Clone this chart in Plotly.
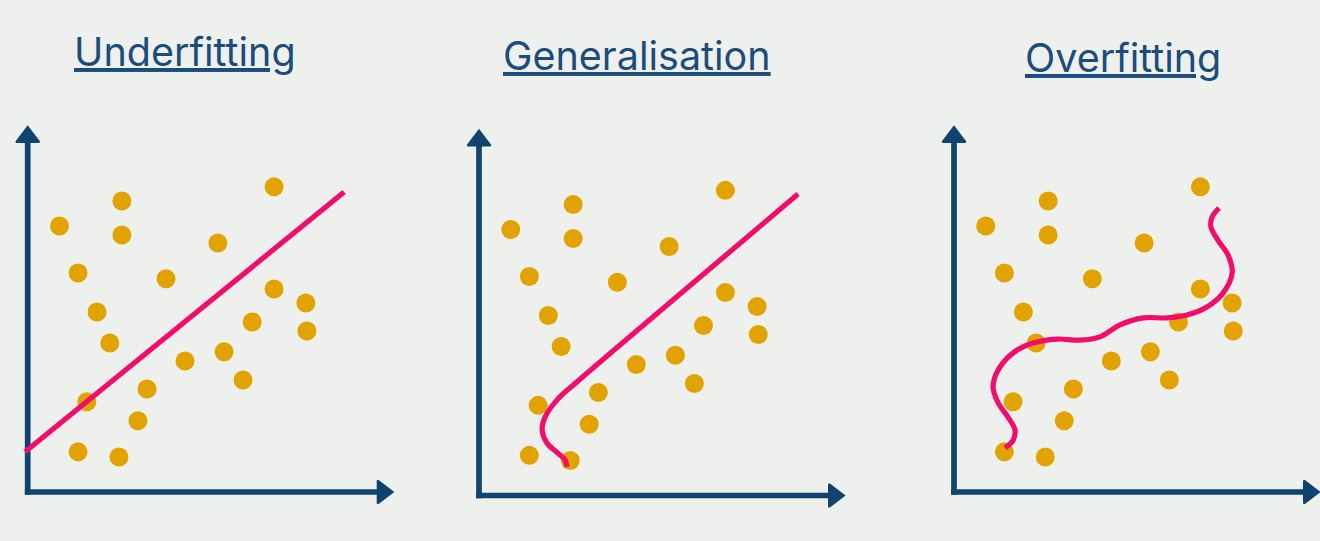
import plotly.graph_objects as go

# ---------------- data (units: axis length = 10) ----------------
titles = ["Underfitting", "Generalisation", "Overfitting"]

dots_x = [0.87, 2.58, 2.58, 6.75, 5.21, 1.38, 3.79, 6.75, 7.62, 7.65, 1.90,
          6.15, 2.25, 5.38, 4.31, 5.90, 3.27, 1.62, 3.02, 1.38, 2.50]
dots_y = [7.29, 7.97, 7.04, 8.36, 6.82, 6.00, 5.84, 5.56, 5.18, 4.41, 4.93,
          4.66, 4.08, 3.84, 3.59, 3.07, 2.82, 2.47, 1.95, 1.10, 0.96]

under_x = [-0.07, 8.67]
under_y = [1.10, 8.22]

gen_x = [2.41, 2.36, 2.16, 1.86, 1.73, 1.81, 2.14, 2.68, 5.71, 8.74]
gen_y = [0.78, 0.97, 1.16, 1.44, 1.79, 2.15, 2.62, 3.11, 5.69, 8.26]

over_x = [1.40, 1.62, 1.67, 1.48, 1.21, 1.07, 1.21, 1.62, 2.16, 2.82, 3.45, 4.00,
          4.55, 5.18, 5.84, 6.38, 6.93, 7.37, 7.62, 7.51, 7.23, 7.04, 7.07, 7.26]
over_y = [1.21, 1.42, 1.70, 2.05, 2.44, 2.88, 3.34, 3.81, 4.08, 4.19, 4.16, 4.25,
          4.58, 4.77, 4.77, 4.85, 5.07, 5.45, 6.00, 6.49, 6.90, 7.26, 7.53, 7.78]

axis_len = 10.0

# ---------------- style / layout ----------------
W, H = 1320, 541
UNIT = 36.5                      # pixels per data unit
origins = [(27.7, 492.0), (479.0, 495.5), (954.0, 492.0)]   # axis origin in px
title_pos = [(185, 52), (637, 56), (1123, 58)]

BG = "#eef0ed"
AXC = "#0f4470"
DOT = "#e2a300"
PINK = "#f20c6c"
TITLE = "#1b4c7c"

XMIN, YMIN, YMAX = -0.75, -0.75, 10.2

fig = go.Figure()
fits = [(under_x, under_y, "linear"), (gen_x, gen_y, "spline"), (over_x, over_y, "spline")]

layout_axes = {}
for i, (ox, oy) in enumerate(origins):
    n = "" if i == 0 else str(i + 1)
    xr = "x" + n
    yr = "y" + n
    left = ox + XMIN * UNIT
    right = ox + axis_len * UNIT
    bottom = oy - YMIN * UNIT
    top = oy - YMAX * UNIT
    layout_axes["xaxis" + n] = dict(domain=[max(left, 0) / W, min(right, W) / W],
                                    range=[XMIN, axis_len], visible=False, anchor=yr)
    layout_axes["yaxis" + n] = dict(domain=[(H - bottom) / H, (H - top) / H],
                                    range=[YMIN, YMAX], visible=False, anchor=xr)

    # axes shafts
    fig.add_trace(go.Scatter(x=[0, 0], y=[-0.078, axis_len - 0.4], mode="lines",
                             line=dict(color=AXC, width=5.7), xaxis=xr, yaxis=yr,
                             hoverinfo="skip", showlegend=False))
    fig.add_trace(go.Scatter(x=[-0.078, axis_len - 0.4], y=[0, 0], mode="lines",
                             line=dict(color=AXC, width=5.7), xaxis=xr, yaxis=yr,
                             hoverinfo="skip", showlegend=False))
    # arrow heads
    fig.add_trace(go.Scatter(x=[0], y=[axis_len - 10 / UNIT], mode="markers",
                             marker=dict(symbol="triangle-up", size=20, color=AXC,
                                         line=dict(color=AXC, width=2)),
                             xaxis=xr, yaxis=yr, cliponaxis=False,
                             hoverinfo="skip", showlegend=False))
    fig.add_trace(go.Scatter(x=[axis_len - 10 / UNIT], y=[0], mode="markers",
                             marker=dict(symbol="triangle-right", size=20, color=AXC,
                                         line=dict(color=AXC, width=2)),
                             xaxis=xr, yaxis=yr, cliponaxis=False,
                             hoverinfo="skip", showlegend=False))
    # dots
    fig.add_trace(go.Scatter(x=dots_x, y=dots_y, mode="markers",
                             marker=dict(size=19, color=DOT, line=dict(width=0)),
                             xaxis=xr, yaxis=yr, cliponaxis=False, showlegend=False))
    # fitted line
    fx, fy, shape = fits[i]
    fig.add_trace(go.Scatter(x=fx, y=fy, mode="lines",
                             line=dict(color=PINK, width=5.2, shape=shape, smoothing=1.0),
                             xaxis=xr, yaxis=yr, showlegend=False))

annotations = []
for t, (tx, ty) in zip(titles, title_pos):
    annotations.append(dict(text="<u>" + t + "</u>", x=tx / W, y=1 - ty / H,
                            xref="paper", yref="paper", xanchor="center", yanchor="middle",
                            showarrow=False,
                            font=dict(family="Inter, Roboto, sans-serif", size=39.5, color=TITLE)))

fig.update_layout(width=W, height=H, margin=dict(l=0, r=0, t=0, b=0),
                  paper_bgcolor=BG, plot_bgcolor=BG, showlegend=False,
                  annotations=annotations, **layout_axes)

fig.write_html("out.html")
